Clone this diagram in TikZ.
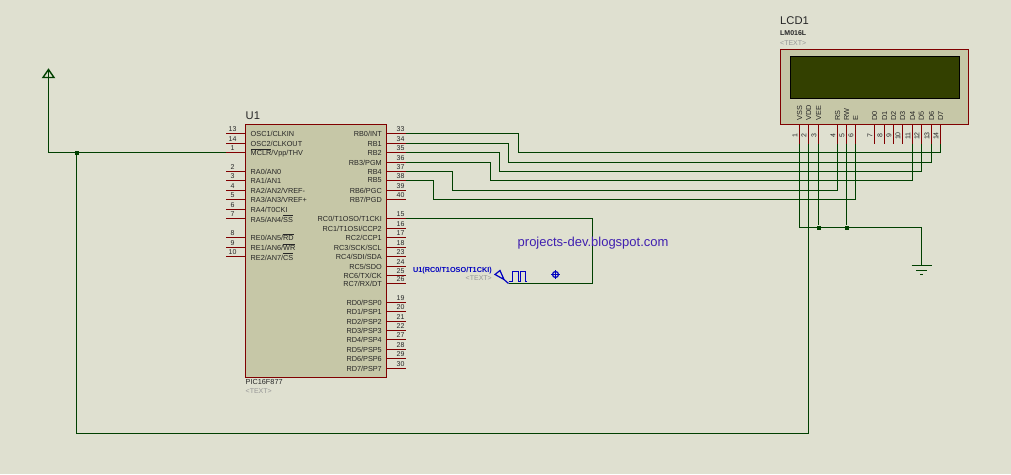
\documentclass[tikz,border=0pt]{standalone}
\usepackage{fontspec}
\setmainfont{Liberation Sans}
\definecolor{sheetbg}{RGB}{223,224,208}
\definecolor{chipbg}{RGB}{198,199,167}
\definecolor{pinred}{RGB}{128,0,0}
\definecolor{wiregreen}{RGB}{0,64,0}
\definecolor{screengreen}{RGB}{51,64,0}
\definecolor{toolblue}{RGB}{0,0,192}
\definecolor{textgrey}{RGB}{150,150,150}
\definecolor{blogblue}{RGB}{64,32,176}
\tikzset{
  chip/.style={draw=pinred,fill=chipbg,line width=1.4pt},
  pinline/.style={draw=pinred,line width=1.4pt},
  wire/.style={draw=wiregreen,line width=1.4pt},
  gen/.style={draw=toolblue,line width=1.2pt},
  lbl/.style={inner sep=0pt,text=black!85,font=\fontsize{7.3}{8}\selectfont},
  pinnum/.style={inner sep=0pt,text=black!85,font=\fontsize{7}{8}\selectfont},
  refname/.style={inner sep=0pt,anchor=west,text=black!85,font=\fontsize{11.2}{13}\selectfont},
  notetext/.style={inner sep=0pt,anchor=west,text=textgrey,font=\fontsize{7}{8}\selectfont},
  junction/.style={fill=wiregreen,inner sep=0pt,minimum size=4pt},
}
\begin{document}
\begin{tikzpicture}[x=1pt,y=-1pt]
  \useasboundingbox[fill=sheetbg] (0,0) rectangle (1011,474);

  \node[refname] (u1name) at (245.5,116) {U1};
  \draw[chip] (245.5,124.5) rectangle (386.5,377.5);
  \node[lbl,anchor=west] (u1part) at (245.5,382) {PIC16F877};
  \node[notetext] (u1text) at (245.5,391.5) {<TEXT>};

  \foreach \n/\y/\t in {13/133.5/{OSC1/CLKIN},14/143.5/{OSC2/CLKOUT},1/152.5/{$\overline{\mbox{MCLR}}$/Vpp/THV},
      2/171.5/{RA0/AN0},3/180.5/{RA1/AN1},4/190.5/{RA2/AN2/VREF-},5/199.5/{RA3/AN3/VREF+},6/209.5/{RA4/T0CKI},
      7/218.5/{RA5/AN4/$\overline{\mbox{SS}}$},8/237.5/{RE0/AN5/$\overline{\mbox{RD}}$},
      9/247.5/{RE1/AN6/$\overline{\mbox{WR}}$},10/256.5/{RE2/AN7/$\overline{\mbox{CS}}$}}{
    \coordinate (u1a\n) at (245.5,\y);
    \coordinate (u1e\n) at (226,\y);
    \draw[pinline] (u1a\n) -- (u1e\n);
    \node[pinnum] (u1num\n) at (232.5,\y-4.5) {\n};
    \node[lbl,anchor=west] (u1lbl\n) at (250.5,\y) {\t};
  }
  \foreach \n/\y/\t in {33/133.5/{RB0/INT},34/143.5/RB1,35/152.5/RB2,36/162.5/{RB3/PGM},37/171.5/RB4,38/180.5/RB5,
      39/190.5/{RB6/PGC},40/199.5/{RB7/PGD},15/218.5/{RC0/T1OSO/T1CKI},16/228.5/{RC1/T1OSI/CCP2},17/237.5/{RC2/CCP1},
      18/247.5/{RC3/SCK/SCL},23/256.5/{RC4/SDI/SDA},24/266.5/{RC5/SDO},25/275.5/{RC6/TX/CK},26/283.5/{RC7/RX/DT},
      19/302.5/{RD0/PSP0},20/311.5/{RD1/PSP1},21/321.5/{RD2/PSP2},22/330.5/{RD3/PSP3},27/339.5/{RD4/PSP4},
      28/349.5/{RD5/PSP5},29/358.5/{RD6/PSP6},30/368.5/{RD7/PSP7}}{
    \coordinate (u1a\n) at (386.5,\y);
    \coordinate (u1e\n) at (405.5,\y);
    \draw[pinline] (u1a\n) -- (u1e\n);
    \node[pinnum] (u1num\n) at (400.5,\y-4.5) {\n};
    \node[lbl,anchor=east] (u1lbl\n) at (382,\y) {\t};
  }

  \node[refname] (lcdname) at (780,21) {LCD1};
  \node[lbl,anchor=west,font=\fontsize{7}{8}\bfseries] (lcdpart) at (780,33.5) {LM016L};
  \node[notetext] (lcdtext) at (780,43.5) {<TEXT>};
  \draw[chip] (780.5,49.5) rectangle (968.5,124.5);
  \draw[fill=screengreen,draw=black,line width=1.2pt] (790.5,56.5) rectangle (959.5,98.5);

  \foreach \n/\x/\t in {1/799.5/VSS,2/808.5/VDD,3/818.5/VEE,4/837.5/RS,5/846.5/RW,6/855.5/E,7/874.5/D0,
      8/884.5/D1,9/893.5/D2,10/902.5/D3,11/912.5/D4,12/921.5/D5,13/931.5/D6,14/940.5/D7}{
    \coordinate (lcda\n) at (\x,124.5);
    \coordinate (lcde\n) at (\x,143.5);
    \draw[pinline] (lcda\n) -- (lcde\n);
    \node[pinnum,rotate=90] (lcdnum\n) at (\x-4.5,136) {\n};
    \node[lbl,rotate=90,anchor=west] (lcdlbl\n) at (\x,120.5) {\t};
  }

  \foreach \a/\x/\y/\b in {33/518.5/152.5/14,34/508.5/162.5/13,35/499.5/171.5/12,36/490.5/180.5/11,
      37/452.5/190.5/4,38/433.5/199.5/6}{
    \coordinate (bend\a) at (\x,\y);
    \draw[wire] (u1e\a) -| (bend\a) -| (lcde\b);
  }

  \node[junction] (j1) at (76.5,152.5) {};
  \node[junction] (j2) at (818.5,227.5) {};
  \node[junction] (j3) at (846.5,227.5) {};

  \coordinate (vcc) at (48.5,69.5);
  \coordinate (vdddown) at (808.5,433.5);
  \coordinate (gnd) at (921.5,265.5);
  \coordinate (gndleft) at (799.5,227.5);
  \draw[wire] (u1e1) -| (vcc);
  \draw[wire] (j1) |- (vdddown) -- (lcde2);
  \draw[wire] (lcde1) -- (gndleft) -| (gnd);
  \draw[wire] (lcde3) -- (j2);
  \draw[wire] (lcde5) -- (j3);
  \draw[wire] (43,77.5) -- (54,77.5) -- (vcc) -- cycle;

  \draw[wire] (gnd) ++(-10,0) -- ++(20,0);
  \draw[wire] (gnd) ++(-5.5,5) -- ++(11,0);
  \draw[wire] (gnd) ++(-1.5,9) -- ++(3,0);

  \coordinate (genout) at (508.5,283.5);
  \coordinate (bendgen) at (592.5,218.5);
  \draw[wire] (u1e15) -| (bendgen) |- (genout);
  \draw[gen] (genout) -- (504,279.5) -- (495,274.5) -- (500,270.5) -- (504,279.5);
  \draw[gen] (genout) ++(0,-2) -- (512.5,281.5) -- (512.5,271.5) -- (518.5,271.5) -- (518.5,281.5) -- (520.5,281.5) -- (520.5,271.5) -- (525.5,271.5) -- (525.5,281.5) -- (527,281.5);
  \node[draw=toolblue,circle,line width=1.2pt,inner sep=0pt,minimum size=6pt] (gencross) at (555.5,274.5) {};
  \draw[gen] (551,274.5) -- (560,274.5);
  \draw[gen] (555.5,270) -- (555.5,279);

  \node[lbl,anchor=east,text=toolblue,font=\fontsize{7.3}{8}\bfseries] (genname) at (492,270.5) {U1(RC0/T1OSO/T1CKI)};
  \node[notetext,anchor=east] (gentext) at (492,278.5) {<TEXT>};
  \node[inner sep=0pt,anchor=west,text=blogblue,font=\fontsize{13}{14}\selectfont] (blog) at (517.5,243.5) {projects-dev.blogspot.com};
\end{tikzpicture}
\end{document}
